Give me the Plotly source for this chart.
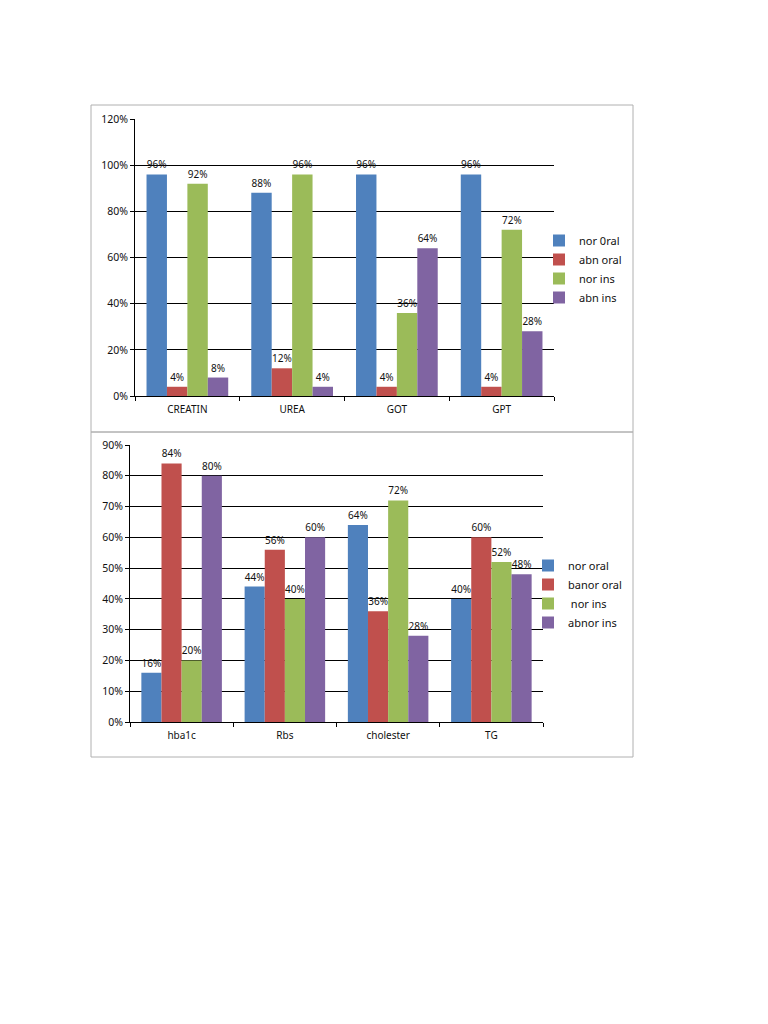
import plotly.graph_objects as go

W, H = 768, 1024

# ---- data ----
top_categories = ["CREATIN", "UREA", "GOT", "GPT"]
top_series_names = ["nor 0ral", "abn oral", "nor ins", "abn ins"]
top_nor_oral = [0.96, 0.88, 0.96, 0.96]
top_abn_oral = [0.04, 0.12, 0.04, 0.04]
top_nor_ins = [0.92, 0.96, 0.36, 0.72]
top_abn_ins = [0.08, 0.04, 0.64, 0.28]

bot_categories = ["hba1c", "Rbs", "cholester", "TG"]
bot_series_names = ["nor oral", "banor oral", "\u00a0nor ins", "abnor ins"]
bot_nor_oral = [0.16, 0.44, 0.64, 0.40]
bot_banor_oral = [0.84, 0.56, 0.36, 0.60]
bot_nor_ins = [0.20, 0.40, 0.72, 0.52]
bot_abnor_ins = [0.80, 0.60, 0.28, 0.48]

colors = ["#4F81BD", "#C0504D", "#9BBB59", "#8064A2"]
FONT = "Noto Sans"

def px_x(p):
    return p / W

def px_y(p):
    return 1 - p / H

fig = go.Figure()

top_vals = [top_nor_oral, top_abn_oral, top_nor_ins, top_abn_ins]
bot_vals = [bot_nor_oral, bot_banor_oral, bot_nor_ins, bot_abnor_ins]

for name, vals, c in zip(top_series_names, top_vals, colors):
    fig.add_trace(go.Bar(
        x=top_categories, y=vals, name=name, marker_color=c,
        marker_line_width=0,
        texttemplate="%{y:.0%}", textposition="outside",
        textfont=dict(size=10, color="#111", family=FONT),
        constraintext="none", cliponaxis=False,
        xaxis="x", yaxis="y", legend="legend",
    ))

for name, vals, c in zip(bot_series_names, bot_vals, colors):
    fig.add_trace(go.Bar(
        x=bot_categories, y=vals, name=name, marker_color=c,
        marker_line_width=0,
        texttemplate="%{y:.0%}", textposition="outside",
        textfont=dict(size=10, color="#111", family=FONT),
        constraintext="none", cliponaxis=False,
        xaxis="x2", yaxis="y2", legend="legend2",
    ))

axis_common = dict(
    showline=True, linecolor="black", linewidth=1,
    ticks="outside", ticklen=4, tickcolor="black",
    automargin=False,
)
xfont = dict(size=10, color="#111", family=FONT)
yfont = dict(size=10.5, color="#111", family=FONT)

fig.update_layout(
    width=W, height=H,
    margin=dict(l=0, r=0, t=0, b=0, pad=0, autoexpand=False),
    paper_bgcolor="white", plot_bgcolor="white",
    barmode="group", bargap=0.22, bargroupgap=0,
    font=dict(family=FONT, size=10, color="#111"),
    xaxis=dict(domain=[px_x(135), px_x(554)], anchor="y",
               tickson="boundaries", showgrid=False, tickfont=xfont,
               ticklabelstandoff=4, **axis_common),
    yaxis=dict(domain=[px_y(396), px_y(119)], anchor="x",
               range=[0, 1.2], dtick=0.2, tickformat=".0%", tickfont=yfont,
               showgrid=True, gridcolor="black", gridwidth=1,
               zeroline=False, **axis_common),
    xaxis2=dict(domain=[px_x(130), px_x(543)], anchor="y2",
                tickson="boundaries", showgrid=False, tickfont=xfont,
                ticklabelstandoff=4, **axis_common),
    yaxis2=dict(domain=[px_y(722), px_y(445)], anchor="x2",
                range=[0, 0.9], dtick=0.1, tickformat=".0%", tickfont=yfont,
                showgrid=True, gridcolor="black", gridwidth=1,
                zeroline=False, **axis_common),
    legend=dict(x=px_x(539), y=px_y(226), xanchor="left", yanchor="top",
                font=dict(size=11, family=FONT, color="#111"),
                tracegroupgap=0, itemwidth=30, bgcolor="rgba(0,0,0,0)"),
    legend2=dict(x=px_x(528), y=px_y(551), xanchor="left", yanchor="top",
                 font=dict(size=11, family=FONT, color="#111"),
                 tracegroupgap=0, itemwidth=30, bgcolor="rgba(0,0,0,0)"),
    showlegend=True,
    shapes=[
        dict(type="rect", xref="paper", yref="paper",
             x0=px_x(91), x1=px_x(633), y0=px_y(432), y1=px_y(105),
             line=dict(color="#b0b0b0", width=1)),
        dict(type="rect", xref="paper", yref="paper",
             x0=px_x(91), x1=px_x(633), y0=px_y(757), y1=px_y(432),
             line=dict(color="#b0b0b0", width=1)),
    ],
)

fig.write_html("out.html")
